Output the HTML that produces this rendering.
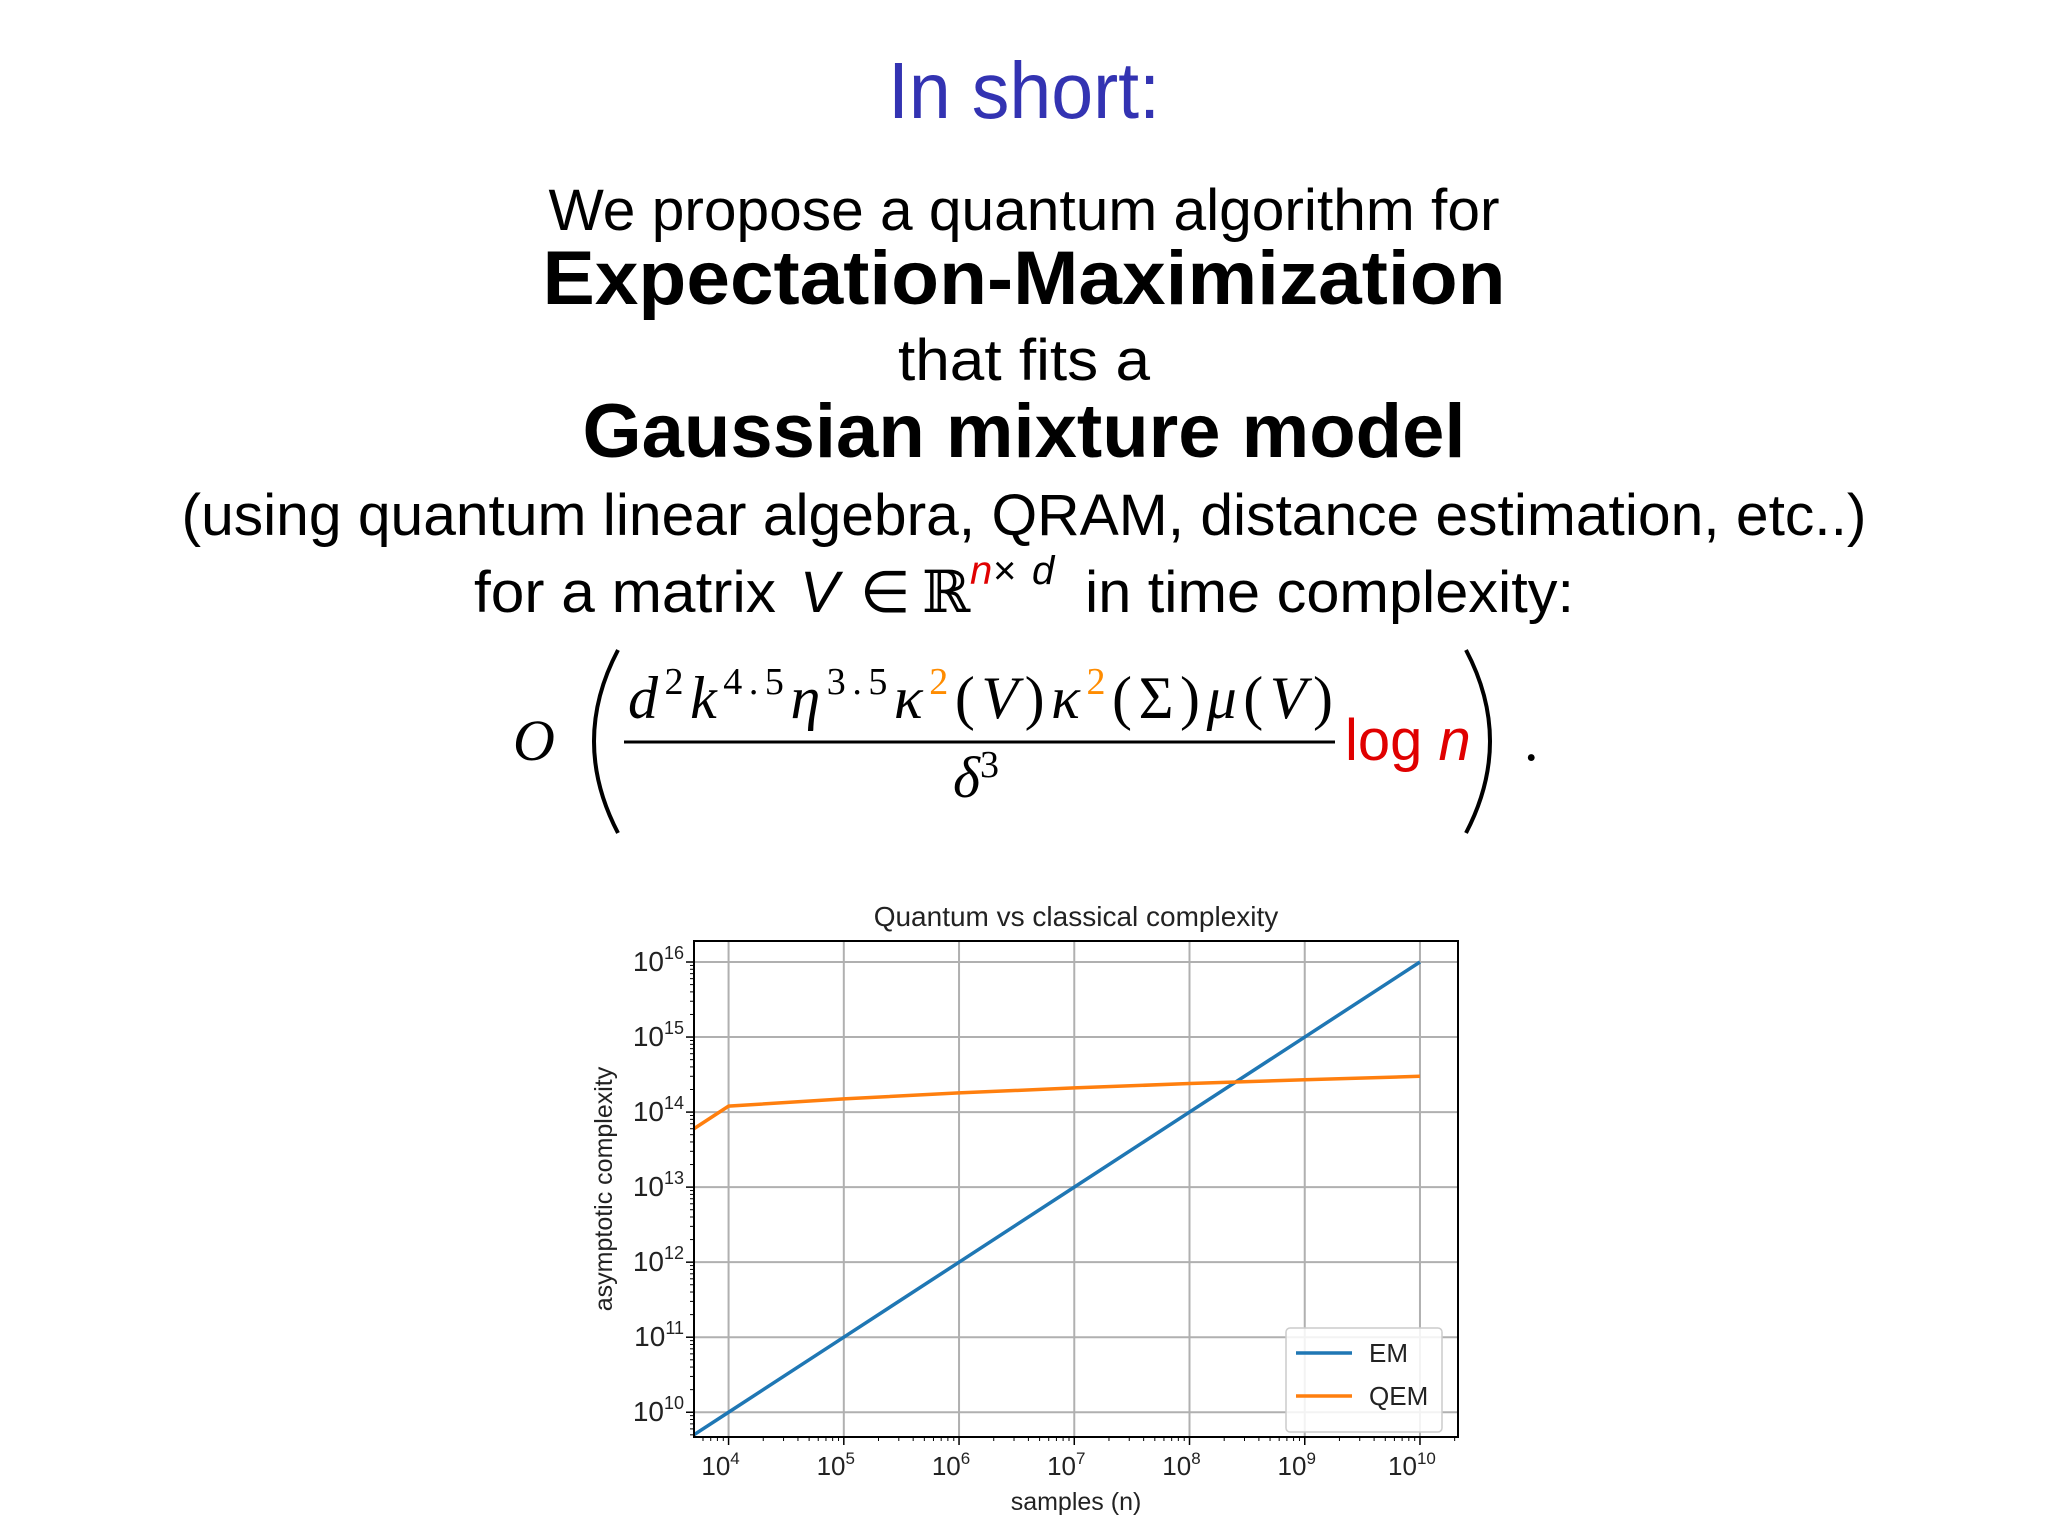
<!DOCTYPE html>
<html><head><meta charset="utf-8"><style>
html,body{margin:0;padding:0;background:#fff;}
svg{display:block;}
</style></head><body>
<svg id="slide" width="2048" height="1536" viewBox="0 0 2048 1536" xmlns="http://www.w3.org/2000/svg" font-family="Liberation Sans, DejaVu Sans, sans-serif">
<text x="1024" y="118" font-size="80" fill="#3333b2" text-anchor="middle" textLength="272" lengthAdjust="spacingAndGlyphs">In short:</text>
<text x="1024" y="230" font-size="58" text-anchor="middle" textLength="951" lengthAdjust="spacingAndGlyphs">We propose a quantum algorithm for</text>
<text x="1024" y="304" font-size="76" font-weight="bold" text-anchor="middle" textLength="963" lengthAdjust="spacingAndGlyphs">Expectation-Maximization</text>
<text x="1024" y="380" font-size="58" text-anchor="middle" textLength="252" lengthAdjust="spacingAndGlyphs">that fits a</text>
<text x="1024" y="457" font-size="76" font-weight="bold" text-anchor="middle" textLength="883" lengthAdjust="spacingAndGlyphs">Gaussian mixture model</text>
<text x="1024" y="535" font-size="58" text-anchor="middle" textLength="1685" lengthAdjust="spacingAndGlyphs">(using quantum linear algebra, QRAM, distance estimation, etc..)</text>
<g font-size="58">
<text x="474" y="612" textLength="302" lengthAdjust="spacingAndGlyphs">for a matrix</text>
<text x="800" y="612" font-style="italic">V</text>
<text x="860" y="612">∈</text>
<text x="922" y="612" font-family="DejaVu Serif, serif">ℝ</text>
<text x="970" y="584" font-size="40" font-style="italic" fill="#e00000">n</text>
<text x="993" y="584" font-size="40">×</text>
<text x="1032" y="584" font-size="40" font-style="italic">d</text>
<text x="1085" y="612" textLength="489" lengthAdjust="spacingAndGlyphs">in time complexity:</text>
</g>
<g font-family="Liberation Serif, DejaVu Serif, serif">
<text x="513" y="760" font-size="58" font-style="italic">O</text>
<path d="M618,650 Q570,741 618,833" stroke="#000" stroke-width="4" fill="none"/>
<path d="M1466,650 Q1514,741 1466,833" stroke="#000" stroke-width="4" fill="none"/>
<text x="628" y="718" font-size="60" textLength="705" lengthAdjust="spacing">
<tspan font-style="italic">d</tspan><tspan dy="-24" font-size="38">2</tspan><tspan dy="24" font-style="italic">k</tspan><tspan dy="-24" font-size="38">4.5</tspan><tspan dy="24" font-style="italic">η</tspan><tspan dy="-24" font-size="38">3.5</tspan><tspan dy="24" font-style="italic">κ</tspan><tspan dy="-24" font-size="38" fill="#ff8c00">2</tspan><tspan dy="24">(</tspan><tspan font-style="italic">V</tspan><tspan>)</tspan><tspan font-style="italic">κ</tspan><tspan dy="-24" font-size="38" fill="#ff8c00">2</tspan><tspan dy="24">(Σ)</tspan><tspan font-style="italic">μ</tspan><tspan>(</tspan><tspan font-style="italic">V</tspan><tspan>)</tspan>
</text>
<line x1="624" y1="742" x2="1335" y2="742" stroke="#000" stroke-width="3"/>
<text x="953" y="797" font-size="58"><tspan font-style="italic">δ</tspan><tspan dy="-20" font-size="38">3</tspan></text>
<text x="1345" y="760" font-size="58" fill="#e00000" font-family="Liberation Sans, sans-serif">log <tspan font-style="italic">n</tspan></text>
<text x="1524" y="760" font-size="58">.</text>
</g>
<g id="chart"></g>
</svg>
<script>
const xTicks=[4,5,6,7,8,9,10];
const yTicks=[10,11,12,13,14,15,16];
const samples=[5000,1e4,1e5,1e6,1e7,1e8,1e9,1e10];
const emValues=[5e9,1e10,1e11,1e12,1e13,1e14,1e15,1e16];
const qemValues=[6e13,1.2e14,1.5e14,1.8e14,2.1e14,2.4e14,2.7e14,3.0e14];
const seriesNames=['EM','QEM'];
const NS='http://www.w3.org/2000/svg';
const L=694,R=1458,T=941,B=1437;
const X0=3.7,X1=10.33,Y0=9.67,Y1=16.28;
function xs(v){return L+(Math.log10(v)-X0)/(X1-X0)*(R-L);}
function ys(v){return B-(Math.log10(v)-Y0)/(Y1-Y0)*(B-T);}
const g=document.getElementById('chart');
function mk(tag,attrs,parent){const e=document.createElementNS(NS,tag);for(const k in attrs)e.setAttribute(k,attrs[k]);(parent||g).appendChild(e);return e;}
const grid=mk('g',{});


xTicks.forEach(t=>{const x=xs(Math.pow(10,t));
 const l=mk('line',{x1:x,x2:x,y1:T,y2:B,stroke:'#b0b0b0','stroke-width':2},grid);
 
 
 mk('line',{x1:x,x2:x,y1:B,y2:B+8,stroke:'#000','stroke-width':1.5});
 const tx=mk('text',{x:x-8,y:B+38,'font-size':26,'text-anchor':'middle',fill:'#222'});
 
 
 tx.textContent='10';const s=mk('tspan',{dy:-11,'font-size':17},tx);s.textContent=t;
});
for(let d=3;d<=10;d++)for(let m=2;m<=9;m++){const v=m*Math.pow(10,d);const lv=Math.log10(v);if(lv<X0||lv>X1)continue;const x=xs(v);mk('line',{x1:x,x2:x,y1:B,y2:B+4,stroke:'#000','stroke-width':1});}
yTicks.forEach(t=>{const y=ys(Math.pow(10,t));
 const l=mk('line',{x1:L,x2:R,y1:y,y2:y,stroke:'#b0b0b0','stroke-width':2},grid);
 
 
 mk('line',{x1:L-8,x2:L,y1:y,y2:y,stroke:'#000','stroke-width':1.5});
 const tx=mk('text',{x:L-10,y:y+9,'font-size':28,'text-anchor':'end',fill:'#222'});
 
 
 tx.appendChild(document.createTextNode('10'));const s=mk('tspan',{dy:-12,'font-size':18},tx);s.textContent=t;
});
for(let d=9;d<=16;d++)for(let m=2;m<=9;m++){const v=m*Math.pow(10,d);const lv=Math.log10(v);if(lv<Y0||lv>Y1)continue;const y=ys(v);mk('line',{x1:L-4,x2:L,y1:y,y2:y,stroke:'#000','stroke-width':1});}
function series(vals,color,name){const p=mk('polyline',{points:samples.map((s,i)=>xs(s)+','+ys(vals[i])).join(' '),fill:'none',stroke:color,'stroke-width':3.5});
 
 }
series(emValues,'#1f77b4','em-line');
series(qemValues,'#ff7f0e','qem-line');
const frame=mk('rect',{x:L,y:T,width:R-L,height:B-T,fill:'none',stroke:'#000','stroke-width':2});


const title=mk('text',{x:(L+R)/2,y:926,'font-size':28,'text-anchor':'middle',fill:'#222'});


title.textContent='Quantum vs classical complexity';
const xl=mk('text',{x:(L+R)/2,y:1510,'font-size':25,'text-anchor':'middle',fill:'#222'});


xl.textContent='samples (n)';
const yl=mk('text',{x:0,y:0,'font-size':25,'text-anchor':'middle',fill:'#222',transform:'translate(612,1189) rotate(-90)'});


yl.textContent='asymptotic complexity';
const lg=mk('g',{});


mk('rect',{x:1286,y:1328,width:156,height:104,rx:4,fill:'#fff','fill-opacity':0.85,stroke:'#ccc','stroke-width':1.5},lg);
[['#1f77b4',1353],['#ff7f0e',1396]].forEach((c,i)=>{
 const e=mk('g',{},lg);
 
 
 mk('line',{x1:1296,x2:1352,y1:c[1],y2:c[1],stroke:c[0],'stroke-width':3.5},e);
 const t=mk('text',{x:1369,y:c[1]+9,'font-size':26,fill:'#222'},e);t.textContent=seriesNames[i];
});
</script>
</body></html>
